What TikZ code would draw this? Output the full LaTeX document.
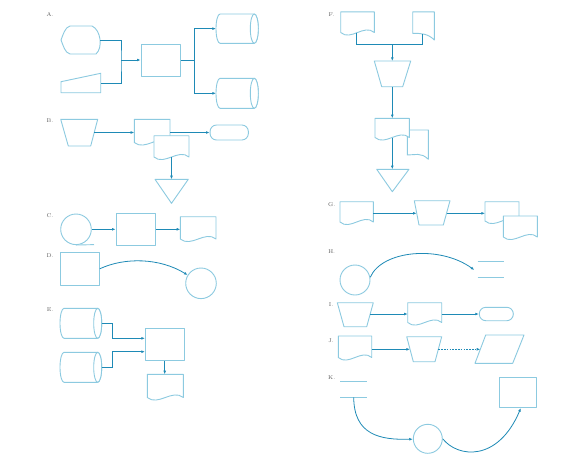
\documentclass[tikz,border=0pt]{standalone}
\usetikzlibrary{arrows.meta,calc}
\definecolor{shapec}{RGB}{140,202,224}
\definecolor{arrc}{RGB}{30,138,182}
\definecolor{lblc}{RGB}{90,90,90}
\tikzset{
 shp/.style={draw=shapec,line width=0.9pt,fill=white,line join=round},
 con/.style={draw=arrc,line width=0.8pt},
 arr/.style={con,-{Latex[length=3.6pt,width=2.8pt]}},
 dsh/.style={arr,dash pattern=on 1.6pt off 1.2pt},
 lbl/.style={font=\fontsize{5.5}{6.5}\selectfont,text=lblc,inner sep=0},
 boxn/.style={shp,rectangle,inner sep=0},
 termn/.style={shp,rectangle,rounded corners=6.5pt,inner sep=0},
 circn/.style={shp,circle,inner sep=0},
}
\newcommand\docsh[4]{%
 \draw[shp] (#1,#2) -- (#3,#2) -- (#3,#4) .. controls ($(#1,#4)!0.7!(#3,#4)+(0,-9)$) and ($(#1,#4)!0.3!(#3,#4)+(0,9)$) .. (#1,#4) -- cycle;}
\newcommand\hcyl[4]{%
 \pgfmathsetmacro\cya{#1+4}\pgfmathsetmacro\cyb{#3-4}%
 \pgfmathsetmacro\cyr{(#4-#2)/2}\pgfmathsetmacro\cym{(#4+#2)/2}%
 \draw[shp] (\cya,#2) -- (\cyb,#2) arc[start angle=-90,end angle=90,x radius=4,y radius=\cyr] -- (\cya,#4) arc[start angle=90,end angle=270,x radius=4,y radius=\cyr] -- cycle;
 \draw[shp] (\cyb,\cym) ellipse[x radius=4,y radius=\cyr];}
\begin{document}
\begin{tikzpicture}[x=1pt,y=-1pt]
\useasboundingbox[fill=white] (0,0) rectangle (572,464);
% labels
\node[lbl] (lA) at (50,15) {A.};
\node[lbl] (lB) at (50,121) {B.};
\node[lbl] (lC) at (50,216) {C.};
\node[lbl] (lD) at (50,255.7) {D.};
\node[lbl] (lE) at (50,309.3) {E.};
\node[lbl] (lF) at (331.7,15) {F.};
\node[lbl] (lG) at (331.7,205) {G.};
\node[lbl] (lH) at (331.7,251.7) {H.};
\node[lbl] (lI) at (331,305) {I.};
\node[lbl] (lJ) at (331,340.7) {J.};
\node[lbl] (lK) at (331.7,377.5) {K.};
% ---------- A
\draw[shp] (70,26) -- (92,26) .. controls (101,30) and (103,48) .. (96,54) -- (70,54) .. controls (65,53) and (63,45) .. (61,40) .. controls (63,35) and (65,27) .. (70,26) -- cycle;
\coordinate (aD) at (100.3,40);
\draw[shp] (61,81.7) -- (100.7,73.3) -- (100.7,92.7) -- (61,92.7) -- cycle;
\coordinate (aM) at (100.7,83.3);
\coordinate (aJ) at (121,60);
\node[boxn,minimum width=39.3pt,minimum height=32pt] (aB) at (160.7,60) {};
\draw[con] (aD) -| (aJ) |- (aM);
\draw[arr] (aJ) -- (aB.west);
\coordinate (aF) at (194.3,60);
\draw[con] (aB.east) -- (aF);
\hcyl{216}{14}{258.3}{43.3}
\hcyl{216}{78.3}{258.3}{108.3}
\coordinate (aC1) at (216,28.65);
\coordinate (aC2) at (216,93.3);
\draw[arr] (aF) |- (aC1);
\draw[arr] (aF) |- (aC2);
% ---------- B
\draw[shp] (60.7,119.3) -- (97.7,119.3) -- (90.7,146) -- (68.3,146) -- cycle;
\coordinate (bT) at (94.2,132.5);
\docsh{134.3}{119.3}{170}{142.5}
\docsh{154}{135.7}{189}{157}
\coordinate (bD1) at (134.3,132.5);
\coordinate (bD1r) at (170,132.5);
\node[termn,minimum width=38.3pt,minimum height=15pt] (bTm) at (229.2,132.5) {};
\coordinate (bD2b) at (171.5,157);
\draw[shp] (155,179.3) -- (188.3,179.3) -- (171.5,203.3) -- cycle;
\coordinate (bTr) at (171.5,179.3);
\draw[arr] (bT) -- (bD1);
\draw[arr] (bD1r) -- (bTm.west);
\draw[arr] (bD2b) -- (bTr);
% ---------- C
\node[circn,minimum size=30.6pt] (cC) at (76,229.3) {};
\coordinate (cTail) at (94,244.6);
\draw[shp] (cC.south) -- (cTail);
\node[boxn,minimum width=39.3pt,minimum height=31.3pt] (cB) at (135.7,229.3) {};
\docsh{180.3}{216.7}{216}{239}
\coordinate (cDoc) at (180.3,229.3);
\draw[arr] (cC.east) -- (cB.west);
\draw[arr] (cB.east) -- (cDoc);
% ---------- D
\node[boxn,minimum width=38.6pt,minimum height=32.3pt] (dB) at (80,268.8) {};
\node[circn,minimum size=30.6pt] (dC) at (201,283.3) {};
\draw[arr] (dB.east) .. controls (125,257) and (160,258) .. (dC);
% ---------- E
\hcyl{60}{308.3}{101.7}{338.3}
\hcyl{60}{352.3}{101.7}{382.3}
\coordinate (eC1) at (101.7,323.3);
\coordinate (eC2) at (101.7,367.3);
\node[boxn,minimum width=39.3pt,minimum height=32.4pt] (eB) at (164.7,344.5) {};
\coordinate (eK1) at (112.7,338.3);
\coordinate (eK2) at (112.7,351.7);
\coordinate (eB1) at (145,338.3);
\coordinate (eB2) at (145,351.7);
\draw[arr] (eC1) -| (eK1) -- (eB1);
\draw[arr] (eC2) -| (eK2) -- (eB2);
\docsh{147.3}{374.3}{183.3}{397.5}
\coordinate (eD) at (164.7,374.3);
\draw[arr] (eB.south) -- (eD);
% ---------- F
\docsh{340.7}{11.8}{374.3}{32.5}
\draw[shp] (412.7,11.8) -- (434.3,11.8) -- (434.3,40) .. controls (428,33.3) and (420,33.3) .. (412.7,33.3) -- cycle;
\coordinate (fD1) at (356.7,32.5);
\coordinate (fD2) at (422.3,34);
\coordinate (fJ) at (392.3,44.5);
\draw[con] (fD1) |- (fJ);
\draw[con] (fD2) |- (fJ);
\draw[shp] (374.3,61) -- (410.7,61) -- (402.7,86.7) -- (381.7,86.7) -- cycle;
\coordinate (fT1) at (392.3,61);
\coordinate (fT2) at (392.3,86.7);
\draw[arr] (fJ) -- (fT1);
\draw[shp] (407.3,130) -- (428.3,130) -- (428.3,159.3) .. controls (421,152) and (415,155) .. (407.3,155) -- cycle;
\docsh{375}{118.3}{409.3}{137.5}
\coordinate (fD3t) at (392.3,118.3);
\coordinate (fD3b) at (392.3,138);
\draw[arr] (fT2) -- (fD3t);
\draw[shp] (376.7,169.3) -- (409,169.3) -- (392.3,191.7) -- cycle;
\coordinate (fTr) at (392.3,169.3);
\draw[arr] (fD3b) -- (fTr);
% ---------- G
\docsh{340}{201.7}{373.3}{222}
\draw[shp] (414.3,200.7) -- (450,200.7) -- (443.3,225) -- (419,225) -- cycle;
\docsh{485}{201.7}{519}{221}
\docsh{503.3}{216}{537.3}{237}
\coordinate (gD1) at (373.3,213.3);
\coordinate (gT1) at (416.7,213.3);
\coordinate (gT2) at (446.5,213.3);
\coordinate (gD2) at (485,213.3);
\draw[arr] (gD1) -- (gT1);
\draw[arr] (gT2) -- (gD2);
% ---------- H
\node[circn,minimum size=30pt] (hC) at (355,280) {};
\coordinate (hE) at (474.3,270);
\draw[arr] (hC.10) .. controls (382,250) and (440,245) .. (hE);
\coordinate (hL1a) at (477.7,261.7);
\coordinate (hL1b) at (504.3,261.7);
\coordinate (hL2a) at (477.7,277.7);
\coordinate (hL2b) at (504.3,277.7);
\draw[shp] (hL1a) -- (hL1b);
\draw[shp] (hL2a) -- (hL2b);
% ---------- I
\draw[shp] (337.3,302.7) -- (373.3,302.7) -- (366.7,326.7) -- (344,326.7) -- cycle;
\docsh{407.7}{302.7}{441.7}{322.5}
\node[termn,minimum width=34pt,minimum height=13.4pt] (iTm) at (496.3,314) {};
\coordinate (iT) at (370.2,314);
\coordinate (iD1) at (407.7,314);
\coordinate (iD2) at (441.7,314);
\draw[arr] (iT) -- (iD1);
\draw[arr] (iD2) -- (iTm.west);
% ---------- J
\docsh{338.3}{336}{371.7}{357.5}
\draw[shp] (406.7,336.7) -- (441.7,336.7) -- (435,361.7) -- (413.3,361.7) -- cycle;
\draw[shp] (485.7,335) -- (524,335) -- (512.7,363.3) -- (475,363.3) -- cycle;
\coordinate (jD) at (371.7,349.3);
\coordinate (jT1) at (410,349.3);
\coordinate (jT2) at (438.3,349.3);
\coordinate (jP) at (480.3,349.3);
\draw[arr] (jD) -- (jT1);
\draw[dsh] (jT2) -- (jP);
% ---------- K
\coordinate (kL1a) at (340,381.7);
\coordinate (kL1b) at (367.3,381.7);
\coordinate (kL2a) at (340,397.3);
\coordinate (kL2b) at (367.3,397.3);
\draw[shp] (kL1a) -- (kL1b);
\draw[shp] (kL2a) -- (kL2b);
\coordinate (kL) at (353.7,397.3);
\node[circn,minimum size=29pt] (kC) at (427.8,438.8) {};
\node[boxn,minimum width=37.7pt,minimum height=30.4pt] (kB) at (517.8,392.5) {};
\draw[arr] (kL) .. controls (354,435) and (380,440) .. (kC);
\draw[arr] (kC.east) .. controls (458,458) and (498,462) .. ($(kB.south)+(3,0)$);
\end{tikzpicture}
\end{document}
